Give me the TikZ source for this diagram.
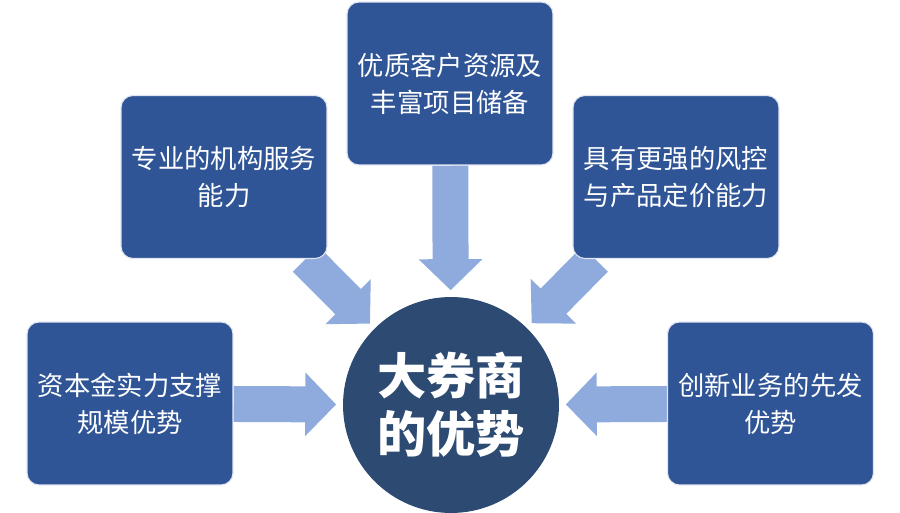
\documentclass[tikz,border=0pt]{standalone}
\usepackage{fontspec}
\newfontfamily\cjk{Noto Sans CJK SC}
\usetikzlibrary{arrows.meta,backgrounds}
\definecolor{navy}{RGB}{47,85,151}
\definecolor{deep}{RGB}{44,74,114}
\definecolor{sky}{RGB}{143,170,220}
\tikzset{
  >={Triangle[width=1.24cm,length=0.62cm]},
  box/.style={fill=navy,draw=white!85!navy,line width=0.6pt,rounded corners=0.24cm,
    minimum width=4.12cm,minimum height=3.26cm,inner sep=0pt,align=center,text=white,
    font=\cjk\fontsize{15}{21}\selectfont},
  hub/.style={circle,fill=deep,minimum size=4.32cm,inner sep=0pt,align=center,text=white,
    font=\cjk\bfseries\fontsize{28}{33}\selectfont},
  flow/.style={->,line width=0.72cm,draw=sky,shorten >=0.13cm},
}

\begin{document}
\begin{tikzpicture}[x=0.02cm,y=-0.02cm]
  \useasboundingbox (0,0) rectangle (900,513);
  \node[hub] (core) at (451,405) {大券商\\的优势};
  \node[box] (top) at (450,83.5) {优质客户资源及\\丰富项目储备};
  \node[box] (ul) at (224,177) {专业的机构服务\\能力};
  \node[box] (ur) at (676,177) {具有更强的风控\\与产品定价能力};
  \node[box] (ll) at (130,403.5) {资本金实力支撑\\规模优势};
  \node[box] (lr) at (770.5,403.5) {创新业务的先发\\优势};
  % block arrows behind the boxes
  \begin{scope}[on background layer]
    \foreach \s in {top,ul,ur,ll,lr} \draw[flow] (\s) -- (core);
  \end{scope}
\end{tikzpicture}
\end{document}
